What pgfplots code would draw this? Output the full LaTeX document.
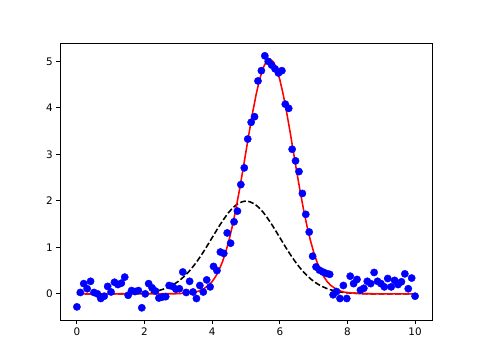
\documentclass[border=0pt]{standalone}
\usepackage{pgfplots}
\pgfplotsset{compat=1.18}
\usepackage{fontspec}
\setmainfont{DejaVu Sans}
\begin{document}
\begin{tikzpicture}
\begin{axis}[
  scale only axis,
  width=4.96in, height=3.696in,
  xmin=-0.5, xmax=10.5, ymin=-0.571, ymax=5.391,
  xtick={0,2,4,6,8,10}, ytick={0,1,2,3,4,5},
  tick align=outside, tick pos=left,
  major tick length=3.5pt,
  every tick/.style={black, line width=0.8pt},
  axis line style={line width=0.8pt},
  tick label style={font=\fontsize{10}{12}\selectfont},
  /pgf/number format/assume math mode=true,
  clip=false,
]
\addplot[only marks, mark=*, mark size=3.5pt, color=blue, mark options={fill=blue, draw=blue}] coordinates {
(0.000,-0.28) (0.101,0.03) (0.202,0.22) (0.303,0.11) (0.404,0.27) (0.505,0.03) (0.606,0.00) (0.707,-0.10) (0.808,-0.05) (0.909,0.16)
(1.010,0.04) (1.111,0.25) (1.212,0.20) (1.313,0.23) (1.414,0.36) (1.515,-0.03) (1.616,0.07) (1.717,0.05) (1.818,0.07) (1.919,-0.30)
(2.020,0.00) (2.121,0.22) (2.222,0.13) (2.323,0.06) (2.424,-0.09) (2.525,-0.07) (2.626,-0.06) (2.727,0.18) (2.828,0.16) (2.929,0.10)
(3.030,0.11) (3.131,0.47) (3.232,0.03) (3.333,0.27) (3.434,0.04) (3.535,-0.10) (3.636,0.18) (3.737,0.04) (3.838,0.30) (3.939,0.15)
(4.040,0.59) (4.141,0.50) (4.242,0.90) (4.343,0.87) (4.444,1.31) (4.545,1.09) (4.646,1.55) (4.747,1.78) (4.848,2.35) (4.949,2.71)
(5.051,3.33) (5.152,3.69) (5.253,3.81) (5.354,4.58) (5.455,4.80) (5.556,5.12) (5.657,5.00) (5.758,4.92) (5.859,4.84) (5.960,4.75)
(6.061,4.80) (6.162,4.08) (6.263,3.99) (6.364,3.11) (6.465,2.86) (6.566,2.63) (6.667,2.16) (6.768,1.71) (6.869,1.33) (6.970,0.81)
(7.071,0.58) (7.172,0.51) (7.273,0.47) (7.374,0.44) (7.475,0.42) (7.576,-0.02) (7.677,0.05) (7.778,-0.10) (7.879,0.18) (7.980,-0.10)
(8.081,0.38) (8.182,0.22) (8.283,0.31) (8.384,0.08) (8.485,0.12) (8.586,0.27) (8.687,0.22) (8.788,0.46) (8.889,0.27) (8.990,0.22)
(9.091,0.15) (9.192,0.33) (9.293,0.15) (9.394,0.29) (9.495,0.20) (9.596,0.26) (9.697,0.43) (9.798,0.11) (9.899,0.34) (10.000,-0.05)
};
\addplot[black, line width=1.5pt, dash pattern=on 5.5pt off 2.4pt, smooth] coordinates {
(0,0) (1,0.0007) (1.5,0.0044) (2,0.022) (2.25,0.045) (2.5,0.088) (2.75,0.159) (3,0.270) (3.25,0.432) (3.5,0.648) (3.75,0.913)
(4,1.210) (4.25,1.506) (4.5,1.761) (4.75,1.934) (5,1.995) (5.25,1.934) (5.5,1.761) (5.75,1.506) (6,1.210) (6.25,0.913)
(6.5,0.648) (6.75,0.432) (7,0.270) (7.25,0.159) (7.5,0.088) (7.75,0.045) (8,0.022) (8.5,0.0044) (9,0.0007) (10,0)
};
\addplot[red, line width=1.5pt] coordinates {
(0,0) (2,0) (3,0.003) (3.5,0.036) (3.7,0.085) (3.9,0.185) (4.0,0.265) (4.1,0.371) (4.2,0.509) (4.3,0.683) (4.4,0.900)
(4.5,1.162) (4.6,1.469) (4.7,1.820) (4.8,2.210) (4.9,2.628) (5.0,3.063) (5.1,3.498) (5.2,3.913) (5.3,4.289) (5.4,4.607)
(5.5,4.848) (5.6,4.999) (5.7,5.05) (5.8,4.999) (5.9,4.848) (6.0,4.607) (6.1,4.289) (6.2,3.913) (6.3,3.498) (6.4,3.063)
(6.5,2.628) (6.6,2.210) (6.7,1.820) (6.8,1.469) (6.9,1.162) (7.0,0.900) (7.1,0.683) (7.2,0.509) (7.3,0.371) (7.4,0.265)
(7.5,0.185) (7.7,0.085) (7.9,0.036) (8.4,0.003) (9,0) (10,0)
};
\coordinate (sw) at (rel axis cs:0,0);
\coordinate (ne) at (rel axis cs:1,1);
\end{axis}
\path[use as bounding box] ([xshift=-0.8in,yshift=-0.528in]sw) rectangle ([xshift=0.64in,yshift=0.576in]ne);
\end{tikzpicture}
\end{document}
